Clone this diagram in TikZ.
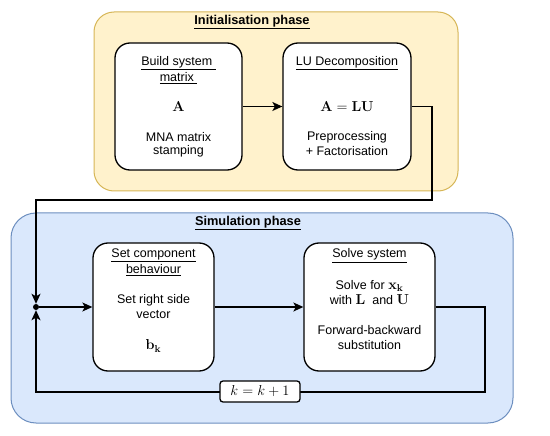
\documentclass[tikz,border=0pt]{standalone}
\usepackage[no-math]{fontspec}
\setmainfont{Liberation Sans}
\usetikzlibrary{arrows.meta}
\definecolor{initfill}{HTML}{FFF2CC}
\definecolor{initdraw}{HTML}{D6B656}
\definecolor{simfill}{HTML}{DAE8FC}
\definecolor{simdraw}{HTML}{6C8EBF}
\tikzset{
  phase/.style={line width=1pt},
  procbox/.style={draw=black, fill=white, line width=1.3pt, rounded corners=15pt, minimum height=127pt, inner sep=0pt},
  txt/.style={inner sep=0pt, font=\fontsize{12.5}{14}\selectfont},
  ttl/.style={inner sep=0pt, font=\fontsize{12.8}{14}\selectfont\bfseries},
  mth/.style={inner sep=0pt, font=\fontsize{14.5}{16}\selectfont},
  conn/.style={line width=1.3pt},
  arr/.style={conn, -{Stealth[length=10pt,width=9pt,inset=2.5pt]}},
}
\begin{document}
\begin{tikzpicture}[x=1pt,y=-1pt]
\useasboundingbox (0,0) rectangle (550,436);
% containers
\node[phase, draw=initdraw, fill=initfill, rounded corners=20pt, minimum width=364pt, minimum height=179pt, inner sep=0pt] (init) at (276,101.5) {};
\node[phase, draw=simdraw, fill=simfill, rounded corners=25pt, minimum width=502pt, minimum height=210pt, inner sep=0pt] (sim) at (262,318) {};
\node[ttl] (initt) at (252,22) {\underline{Initialisation phase}};
\node[ttl] (simt) at (248,223) {\underline{Simulation phase}};
% boxes
\node[procbox, minimum width=127pt] (A) at (178.5,106.5) {};
\node[procbox, minimum width=128pt] (B) at (347,106.5) {};
\node[procbox, minimum width=121pt, minimum height=128pt] (C) at (153.5,307) {};
\node[procbox, minimum width=131pt, minimum height=128pt] (D) at (369.5,307) {};
% texts A
\node[txt] (a1) at (178.5,63) {\underline{Build system\ }};
\node[txt] (a2) at (178.5,78) {\underline{matrix\ }};
\node[mth] (a3) at (178.5,107) {$\mathbf{A}$};
\node[txt] (a4) at (178.5,137) {MNA matrix};
\node[txt] (a5) at (178.5,151.5) {stamping};
% texts B
\node[txt] (b1) at (347,63) {\underline{LU Decomposition}};
\node[mth] (b2) at (347,107) {$\mathbf{A}=\mathbf{LU}$};
\node[txt] (b3) at (347,137) {Preprocessing};
\node[txt] (b4) at (347,151.5) {+ Factorisation};
% texts C
\node[txt] (c1) at (153.5,255.5) {\underline{Set component}};
\node[txt] (c2) at (153.5,270.5) {\underline{behaviour}};
\node[txt] (c3) at (153.5,300) {Set right side};
\node[txt] (c4) at (153.5,315) {vector};
\node[mth] (c5) at (153.5,346) {$\mathbf{b_k}$};
% texts D
\node[txt] (d1) at (369.5,255.5) {\underline{Solve system}};
\node[txt, anchor=base] (d2) at (369.5,289) {Solve for {\fontsize{14.5}{16}\selectfont$\mathbf{x_k}$}};
\node[txt, anchor=base] (d3) at (369.5,304) {with {\fontsize{14.5}{16}\selectfont$\mathbf{L}$}\ \ and {\fontsize{14.5}{16}\selectfont$\mathbf{U}$}};
\node[txt] (d4) at (369.5,330) {Forward-backward};
\node[txt] (d5) at (369.5,345) {substitution};
% junction
\node[circle, fill=black, inner sep=0pt, minimum size=6pt] (j) at (36,307) {};
\coordinate (p1) at (432,106.5);
\coordinate (p2) at (432,200);
\coordinate (p3) at (36,200);
\coordinate (q1) at (485,307);
\coordinate (q2) at (485,392);
\coordinate (q3) at (36,392);
% connectors
\draw[arr] (A.east) -- (B.west);
\draw[arr] (B.east) -- (p1) -- (p2) -- (p3) -- (j.north);
\draw[arr] (j.east) -- (C.west);
\draw[arr] (C.east) -- (D.west);
\draw[arr] (D.east) -- (q1) -- (q2) -- (q3) -- (j.south);
\node[draw=black, fill=white, line width=1.3pt, rounded corners=3pt, minimum width=80pt, minimum height=21pt, inner sep=0pt, font=\fontsize{14.5}{16}\selectfont] (kk) at (260,391.5) {$k=k+1$};
\end{tikzpicture}
\end{document}
